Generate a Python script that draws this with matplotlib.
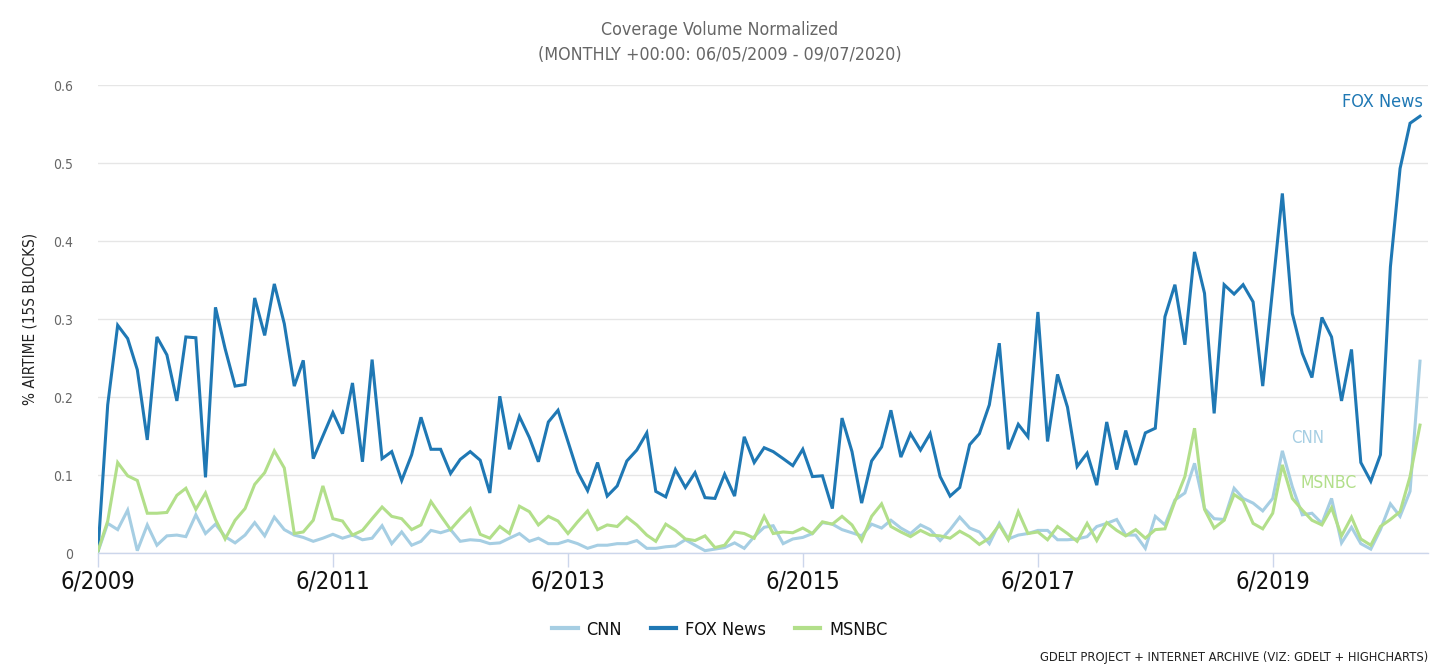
#!/usr/bin/env python3
"""Monthly coverage volume (normalized) for CNN, FOX News and MSNBC, 6/2009 - 9/2020."""

import matplotlib
matplotlib.use("Agg")
import matplotlib.pyplot as plt
import pandas as pd

plt.rcParams["font.family"] = ["DejaVu Sans"]
plt.rcParams["font.stretch"] = "condensed"

MONTHS = pd.date_range("2009-06-01", periods=136, freq="MS")

FOX = [
    0.004, 0.190, 0.292, 0.275, 0.235, 0.145, 0.277, 0.254, 0.195, 0.277, 0.276, 0.097,
    0.315, 0.262, 0.214, 0.216, 0.327, 0.279, 0.345, 0.294, 0.214, 0.247,
    0.121, 0.150, 0.180, 0.153, 0.218, 0.117, 0.248, 0.121, 0.130, 0.093, 0.126, 0.174,
    0.133, 0.133, 0.102, 0.120, 0.130, 0.119, 0.077, 0.201, 0.133, 0.175,
    0.148, 0.117, 0.168, 0.183, 0.143, 0.104, 0.080, 0.116, 0.073, 0.086, 0.118, 0.132,
    0.154, 0.079, 0.072, 0.107, 0.084, 0.103, 0.071, 0.070, 0.101, 0.073, 0.149,
    0.116, 0.135, 0.130, 0.121, 0.112, 0.133, 0.098, 0.099, 0.057, 0.173, 0.130, 0.064,
    0.118, 0.136, 0.183, 0.123, 0.153, 0.132, 0.153, 0.098, 0.073, 0.084,
    0.139, 0.153, 0.190, 0.269, 0.133, 0.165, 0.149, 0.309, 0.143, 0.229, 0.187, 0.111,
    0.128, 0.087, 0.168, 0.107, 0.157, 0.113, 0.154, 0.160, 0.303, 0.344, 0.267,
    0.386, 0.333, 0.179, 0.344, 0.332, 0.344, 0.322, 0.214, 0.340, 0.461, 0.307, 0.256,
    0.225, 0.302, 0.277, 0.195, 0.261, 0.116, 0.092, 0.126, 0.367, 0.493, 0.551, 0.560,
]
CNN = [
    0.002, 0.038, 0.030, 0.055, 0.003, 0.036, 0.010, 0.022, 0.023, 0.021, 0.049, 0.025,
    0.037, 0.021, 0.013, 0.023, 0.039, 0.022, 0.046, 0.030, 0.023, 0.020,
    0.015, 0.019, 0.024, 0.019, 0.023, 0.017, 0.019, 0.035, 0.012, 0.027, 0.010, 0.015,
    0.029, 0.026, 0.030, 0.015, 0.017, 0.016, 0.012, 0.013, 0.019, 0.025,
    0.015, 0.019, 0.012, 0.012, 0.016, 0.012, 0.006, 0.010, 0.010, 0.012, 0.012, 0.016,
    0.006, 0.006, 0.008, 0.009, 0.017, 0.010, 0.003, 0.005, 0.007, 0.013, 0.006,
    0.021, 0.033, 0.035, 0.012, 0.018, 0.020, 0.025, 0.039, 0.037, 0.030, 0.026, 0.022,
    0.037, 0.032, 0.042, 0.032, 0.025, 0.036, 0.030, 0.016, 0.030, 0.046,
    0.032, 0.027, 0.012, 0.038, 0.018, 0.023, 0.025, 0.029, 0.029, 0.017, 0.017, 0.018,
    0.021, 0.034, 0.038, 0.043, 0.023, 0.023, 0.006, 0.047, 0.036, 0.068, 0.077,
    0.115, 0.057, 0.044, 0.043, 0.083, 0.070, 0.064, 0.054, 0.070, 0.131, 0.085, 0.049,
    0.051, 0.038, 0.070, 0.013, 0.033, 0.012, 0.005, 0.030, 0.063, 0.047, 0.079, 0.246,
]
MSNBC = [
    0.003, 0.041, 0.116, 0.099, 0.093, 0.051, 0.051, 0.052, 0.074, 0.083, 0.056, 0.077,
    0.043, 0.018, 0.042, 0.057, 0.088, 0.103, 0.131, 0.109, 0.025, 0.027,
    0.042, 0.086, 0.044, 0.041, 0.023, 0.029, 0.044, 0.059, 0.047, 0.044, 0.030, 0.036,
    0.066, 0.048, 0.030, 0.044, 0.057, 0.024, 0.019, 0.034, 0.025, 0.060,
    0.053, 0.036, 0.047, 0.041, 0.025, 0.040, 0.054, 0.030, 0.036, 0.034, 0.046, 0.036,
    0.023, 0.015, 0.037, 0.029, 0.018, 0.016, 0.022, 0.007, 0.010, 0.027, 0.025,
    0.019, 0.047, 0.025, 0.027, 0.026, 0.032, 0.025, 0.040, 0.037, 0.047, 0.036, 0.016,
    0.047, 0.063, 0.034, 0.027, 0.021, 0.029, 0.023, 0.022, 0.019, 0.028,
    0.021, 0.011, 0.019, 0.036, 0.017, 0.053, 0.025, 0.027, 0.017, 0.034, 0.025, 0.015,
    0.038, 0.016, 0.039, 0.029, 0.022, 0.030, 0.019, 0.030, 0.031, 0.066, 0.098,
    0.160, 0.056, 0.032, 0.042, 0.075, 0.067, 0.038, 0.031, 0.051, 0.113, 0.070, 0.055,
    0.042, 0.036, 0.058, 0.022, 0.046, 0.018, 0.010, 0.034, 0.043, 0.053, 0.098, 0.164,
]

SERIES = [("CNN", CNN, "#a6cee3"), ("FOX News", FOX, "#1f78b4"), ("MSNBC", MSNBC, "#b2df8a")]
TICK_DATES = pd.to_datetime(["2009-06-01", "2011-06-01", "2013-06-01",
                             "2015-06-01", "2017-06-01", "2019-06-01"])
TICK_LABELS = ["6/2009", "6/2011", "6/2013", "6/2015", "6/2017", "6/2019"]
Y_TICKS = [0, 0.1, 0.2, 0.3, 0.4, 0.5, 0.6]


def main():
    fig = plt.figure(figsize=(14.4, 6.7), dpi=100)
    ax = fig.add_axes([0.0681, 0.1746, 0.9236, 0.6985])

    for name, values, color in SERIES:
        ax.plot(MONTHS, values, color=color, linewidth=2.2, label=name,
                solid_joinstyle="miter", zorder=3)

    ax.set_ylim(0, 0.6)
    ax.set_xlim(MONTHS[0], pd.Timestamp("2020-09-26"))
    ax.set_yticks(Y_TICKS)
    ax.set_yticklabels([f"{v:g}" for v in Y_TICKS], color="#666666", fontsize=10)
    ax.set_xticks(TICK_DATES)
    ax.set_xticklabels(TICK_LABELS, fontsize=17, color="#111111")
    ax.tick_params(axis="x", length=10, width=1, color="#ccd6eb", pad=2)
    ax.tick_params(axis="y", length=0, pad=18)

    ax.grid(axis="y", color="#e6e6e6", linewidth=1)
    for side in ("top", "right", "left"):
        ax.spines[side].set_visible(False)
    ax.spines["bottom"].set_color("#ccd6eb")
    ax.spines["bottom"].set_linewidth(1)
    ax.spines["bottom"].set_zorder(2)

    ax.set_ylabel("% AIRTIME (15S BLOCKS)", fontsize=11, color="#222222", labelpad=11)

    ax.text(MONTHS[-1] + pd.Timedelta(days=10), 0.567, "FOX News", color="#1f78b4",
            fontsize=13, ha="right", va="bottom")
    ax.text(MONTHS[-12] - pd.Timedelta(days=12), 0.148, "CNN", color="#a6cee3",
            fontsize=12, ha="center", va="center")
    ax.text(MONTHS[-10] - pd.Timedelta(days=8), 0.090, "MSNBC", color="#b2df8a",
            fontsize=12.5, ha="center", va="center")

    fig.text(0.5, 0.955, "Coverage Volume Normalized", ha="center", va="center",
             fontsize=12.8, color="#666666")
    fig.text(0.5, 0.918, "(MONTHLY +00:00: 06/05/2009 - 09/07/2020)", ha="center",
             va="center", fontsize=12.8, color="#666666")
    fig.text(0.9917, 0.018, "GDELT PROJECT + INTERNET ARCHIVE (VIZ: GDELT + HIGHCHARTS)",
             ha="right", va="center", fontsize=9.3, color="#222222")

    leg = fig.legend(loc="center", bbox_to_anchor=(0.5, 0.06), ncol=3, frameon=False,
                     fontsize=13, handlelength=1.4, handletextpad=0.5, columnspacing=1.6)
    for handle in leg.legend_handles:
        handle.set_linewidth(3)
    for text in leg.get_texts():
        text.set_color("#111111")

    fig.savefig("out.png", dpi=100)
    plt.close(fig)


if __name__ == "__main__":
    main()
